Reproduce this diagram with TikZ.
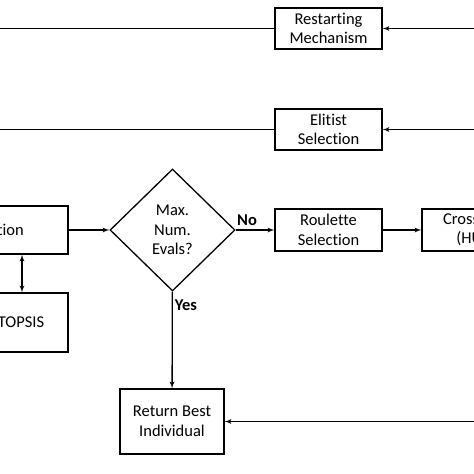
\documentclass[tikz,border=0pt]{standalone}
\usepackage{fontspec}
\setmainfont{Carlito}[Ligatures=NoCommon]
\usetikzlibrary{shapes.geometric,arrows,positioning}
\tikzstyle{line} = [draw, -latex']
\tikzstyle{block} = [draw, rectangle, align=center, inner sep=0pt, minimum width=107pt, minimum height=41pt]
\tikzstyle{decision} = [draw, diamond, align=center, inner sep=0pt, minimum width=125pt, minimum height=122pt]
\tikzstyle{lbl} = [font=\fontsize{16.5}{19.5}\selectfont\bfseries, inner sep=0pt]
\begin{document}
\begin{tikzpicture}[x=1pt, y=-1pt, line width=1.3pt, font=\fontsize{16.5}{19.5}\selectfont]
        \useasboundingbox (0,0) rectangle (474,474);
        \clip (0,0) rectangle (474,474);
        % boxes
        \node[block] (restart) at (328.5,28.5) {Restarting\\Mechanism};
        \node[block] (elitist) at (328.5,129.5) {Elitist\\Selection};
        \node[block, minimum width=158pt, minimum height=48pt] (eval) at (-11,230) {Evaluation};
        \node[block, minimum width=94pt, minimum height=59pt] (topsis) at (21,322.5) {TOPSIS};
        \node[decision] (maxeval) at (172.5,230) {Max.\\Num.\\Evals?};
        \node[block, minimum height=42pt] (roulette) at (328.5,230) {Roulette\\Selection};
        \node[block, minimum width=108pt, minimum height=42pt] (cross) at (476,230) {Crossover\\(HUX)};
        \node[block, minimum width=104pt, minimum height=65pt] (best) at (172,421.5) {Return Best\\Individual};
        % free ends outside the picture
        \coordinate (inR) at (490,28.5);
        \coordinate (inE) at (490,129.5);
        \coordinate (inB) at (490,421.5);
        \coordinate (outR) at (-10,28.5);
        \coordinate (outE) at (-10,129.5);
        % labels
        \node[lbl] (no) at (247,220) {No};
        \node[lbl] (yes) at (186,305) {Yes};
        % connectors
        \path[line] (inR) -- (restart);
        \path[draw] (restart) -- (outR);
        \path[line] (inE) -- (elitist);
        \path[draw] (elitist) -- (outE);
        \path[line] (eval) -- (maxeval);
        \path[draw, latex'-latex'] ([xshift=33pt]eval.south) -- ([xshift=1pt]topsis.north);
        \path[line] (maxeval) -- (roulette);
        \path[line] (roulette) -- (cross);
        \path[line] (maxeval) -- (best);
        \path[line] (inB) -- (best);
\end{tikzpicture}
\end{document}
